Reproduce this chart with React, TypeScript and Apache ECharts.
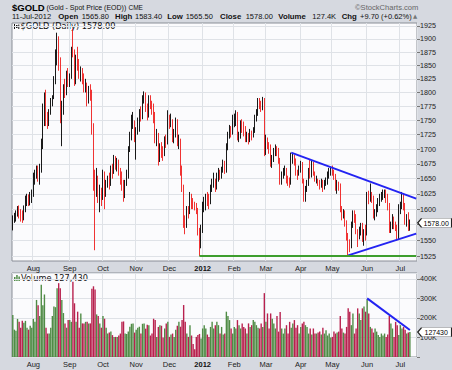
import React, { useEffect, useRef } from "react";
import * as echarts from "echarts";

// ---------- calendar ----------
const holidays = [
  "2011-09-05", "2011-11-24", "2011-12-26", "2012-01-02", "2012-01-16",
  "2012-02-20", "2012-04-06", "2012-05-28", "2012-07-04",
];
const firstDay = "2011-07-13";
const lastDay = "2012-07-17"; // last four sessions are empty space on the right
const monthNames = ["Jan", "Feb", "Mar", "Apr", "May", "Jun", "Jul", "Aug", "Sep", "Oct", "Nov", "Dec"];

// ---------- price: [open, close, low, high] ----------
const ohlcJul2011 = [
  [1570, 1585, 1566, 1590], [1585, 1588, 1578, 1594], [1588, 1592, 1580, 1598], [1592, 1600, 1588, 1605],
  [1600, 1595, 1585, 1606], [1595, 1588, 1580, 1600], [1588, 1585, 1578, 1598], [1585, 1600, 1582, 1606],
  [1600, 1612, 1595, 1622], [1612, 1618, 1605, 1625], [1618, 1612, 1605, 1624], [1612, 1615, 1606, 1628],
  [1615, 1628, 1610, 1632],
];
const ohlcAug2011 = [
  [1628, 1645, 1620, 1660], [1645, 1660, 1640, 1665], [1660, 1668, 1650, 1672], [1668, 1650, 1645, 1672],
  [1650, 1662, 1640, 1675], [1662, 1712, 1660, 1718], [1712, 1745, 1700, 1780], [1745, 1795, 1740, 1800],
  [1795, 1755, 1740, 1805], [1755, 1745, 1735, 1765], [1745, 1765, 1740, 1770], [1765, 1785, 1760, 1790],
  [1785, 1792, 1775, 1795], [1792, 1822, 1788, 1830], [1822, 1855, 1815, 1880], [1855, 1895, 1850, 1912],
  [1895, 1860, 1840, 1905], [1860, 1755, 1745, 1865], [1755, 1772, 1705, 1785], [1772, 1810, 1760, 1815],
  [1810, 1800, 1790, 1825], [1800, 1835, 1795, 1840], [1835, 1825, 1810, 1845],
];
const ohlcSep2011 = [
  [1825, 1828, 1810, 1835], [1828, 1880, 1825, 1885], [1880, 1872, 1865, 1920], [1872, 1818, 1812, 1880],
  [1818, 1862, 1815, 1870], [1862, 1858, 1840, 1885], [1858, 1835, 1825, 1862], [1835, 1842, 1820, 1848],
  [1842, 1828, 1815, 1845], [1828, 1812, 1800, 1835], [1812, 1815, 1800, 1825], [1815, 1782, 1775, 1818],
  [1782, 1808, 1780, 1812], [1808, 1800, 1785, 1815], [1800, 1740, 1725, 1805], [1740, 1655, 1630, 1745],
  [1655, 1625, 1535, 1665], [1625, 1652, 1620, 1668], [1652, 1618, 1610, 1655], [1618, 1625, 1595, 1640],
  [1625, 1622, 1605, 1635],
];
const ohlcOct2011 = [
  [1622, 1658, 1615, 1665], [1658, 1625, 1600, 1662], [1625, 1642, 1620, 1648], [1642, 1648, 1635, 1655],
  [1648, 1640, 1632, 1660], [1640, 1665, 1638, 1672], [1665, 1662, 1650, 1675], [1662, 1682, 1658, 1690],
  [1682, 1675, 1665, 1688], [1675, 1680, 1662, 1685], [1680, 1662, 1655, 1682], [1662, 1652, 1640, 1668],
  [1652, 1645, 1630, 1662], [1645, 1620, 1612, 1648], [1620, 1642, 1618, 1648], [1642, 1655, 1638, 1665],
  [1655, 1700, 1650, 1705], [1700, 1722, 1695, 1730], [1722, 1742, 1715, 1760], [1742, 1745, 1735, 1765],
  [1745, 1718, 1712, 1750],
];
const ohlcNov2011 = [
  [1718, 1730, 1682, 1738], [1730, 1740, 1725, 1755], [1740, 1765, 1730, 1770], [1765, 1755, 1748, 1775],
  [1755, 1790, 1752, 1795], [1790, 1795, 1780, 1802], [1795, 1775, 1765, 1800], [1775, 1760, 1750, 1780],
  [1760, 1790, 1755, 1795], [1790, 1780, 1770, 1795], [1780, 1775, 1760, 1785], [1775, 1760, 1745, 1780],
  [1760, 1720, 1710, 1765], [1720, 1725, 1705, 1735], [1725, 1682, 1672, 1728], [1682, 1700, 1678, 1710],
  [1700, 1695, 1685, 1712], [1695, 1690, 1680, 1705], [1690, 1715, 1688, 1722], [1715, 1712, 1702, 1725],
  [1712, 1748, 1708, 1768],
];
const ohlcDec2011 = [
  [1748, 1745, 1735, 1760], [1745, 1748, 1738, 1762], [1748, 1722, 1712, 1752], [1722, 1728, 1710, 1735],
  [1728, 1745, 1720, 1755], [1745, 1712, 1705, 1752], [1712, 1712, 1700, 1725], [1712, 1665, 1655, 1718],
  [1665, 1635, 1628, 1672], [1635, 1578, 1570, 1640], [1578, 1572, 1560, 1590], [1572, 1598, 1570, 1605],
  [1598, 1595, 1585, 1605], [1595, 1620, 1592, 1628], [1620, 1612, 1600, 1625], [1612, 1610, 1600, 1618],
  [1610, 1605, 1598, 1612], [1605, 1598, 1592, 1610], [1598, 1565, 1558, 1602], [1565, 1542, 1526, 1570],
  [1542, 1565, 1538, 1575],
];
const ohlcJan2012 = [
  [1565, 1600, 1562, 1612], [1600, 1612, 1595, 1620], [1612, 1620, 1598, 1625], [1620, 1616, 1605, 1628],
  [1616, 1610, 1600, 1625], [1610, 1635, 1608, 1640], [1635, 1645, 1628, 1650], [1645, 1648, 1635, 1660],
  [1648, 1635, 1628, 1650], [1635, 1655, 1632, 1660], [1655, 1660, 1645, 1668], [1660, 1655, 1648, 1665],
  [1655, 1665, 1650, 1670], [1665, 1675, 1660, 1682], [1675, 1665, 1658, 1680], [1665, 1700, 1660, 1710],
  [1700, 1725, 1698, 1730], [1725, 1735, 1718, 1742], [1735, 1730, 1720, 1740], [1730, 1745, 1725, 1760],
];
const ohlcFeb2012 = [
  [1745, 1748, 1738, 1762], [1748, 1760, 1740, 1768], [1760, 1722, 1715, 1765], [1722, 1722, 1712, 1730],
  [1722, 1745, 1718, 1750], [1745, 1740, 1728, 1752], [1740, 1735, 1722, 1748], [1735, 1720, 1712, 1740],
  [1720, 1722, 1712, 1730], [1722, 1718, 1708, 1728], [1718, 1728, 1712, 1735], [1728, 1725, 1715, 1732],
  [1725, 1730, 1720, 1738], [1730, 1755, 1728, 1760], [1755, 1762, 1748, 1770], [1762, 1785, 1758, 1790],
  [1785, 1778, 1770, 1790], [1778, 1772, 1765, 1785], [1772, 1785, 1768, 1792], [1785, 1695, 1688, 1790],
];
const ohlcMar2012 = [
  [1695, 1715, 1690, 1725], [1715, 1705, 1700, 1720], [1705, 1702, 1692, 1712], [1702, 1675, 1670, 1708],
  [1675, 1682, 1668, 1690], [1682, 1698, 1678, 1702], [1698, 1700, 1688, 1708], [1700, 1698, 1688, 1705],
  [1698, 1682, 1675, 1702], [1682, 1645, 1640, 1685], [1645, 1658, 1640, 1662], [1658, 1662, 1650, 1668],
  [1662, 1665, 1655, 1672], [1665, 1650, 1642, 1668], [1650, 1648, 1638, 1655], [1648, 1642, 1635, 1652],
  [1642, 1685, 1640, 1694], [1685, 1688, 1675, 1693], [1688, 1680, 1672, 1690], [1680, 1660, 1655, 1684],
  [1660, 1658, 1648, 1665], [1658, 1668, 1655, 1672],
];
const ohlcApr2012 = [
  [1668, 1675, 1660, 1680], [1675, 1648, 1642, 1678], [1648, 1618, 1612, 1650], [1618, 1630, 1612, 1638],
  [1630, 1642, 1628, 1648], [1642, 1662, 1638, 1668], [1662, 1658, 1650, 1682], [1658, 1675, 1652, 1680],
  [1675, 1660, 1655, 1678], [1660, 1650, 1645, 1662], [1650, 1652, 1642, 1655], [1652, 1645, 1638, 1650],
  [1645, 1642, 1632, 1648], [1642, 1645, 1635, 1650], [1645, 1635, 1628, 1648], [1635, 1642, 1632, 1648],
  [1642, 1645, 1638, 1652], [1645, 1658, 1640, 1662], [1658, 1662, 1650, 1668], [1662, 1665, 1655, 1670],
];
const ohlcMay2012 = [
  [1665, 1662, 1655, 1672], [1662, 1655, 1648, 1665], [1655, 1635, 1630, 1658], [1635, 1642, 1625, 1648],
  [1642, 1640, 1630, 1645], [1640, 1602, 1595, 1642], [1602, 1592, 1582, 1605], [1592, 1595, 1585, 1600],
  [1595, 1580, 1572, 1598], [1580, 1558, 1550, 1582], [1558, 1545, 1527, 1562], [1545, 1540, 1532, 1552],
  [1540, 1575, 1538, 1580], [1575, 1592, 1570, 1598], [1592, 1588, 1578, 1598], [1588, 1565, 1560, 1592],
  [1565, 1558, 1540, 1568], [1558, 1565, 1552, 1572], [1565, 1572, 1558, 1578], [1572, 1555, 1548, 1578],
  [1555, 1562, 1542, 1568], [1562, 1560, 1550, 1575],
];
const ohlcJun2012 = [
  [1560, 1622, 1558, 1628], [1622, 1618, 1608, 1630], [1618, 1620, 1612, 1642], [1620, 1618, 1610, 1628],
  [1618, 1590, 1585, 1622], [1590, 1595, 1582, 1600], [1595, 1598, 1588, 1608], [1598, 1612, 1595, 1618],
  [1612, 1620, 1605, 1625], [1620, 1622, 1612, 1628], [1622, 1625, 1615, 1632], [1625, 1628, 1618, 1632],
  [1628, 1620, 1610, 1632], [1620, 1605, 1598, 1625], [1605, 1566, 1562, 1610], [1566, 1572, 1562, 1580],
  [1572, 1585, 1568, 1592], [1585, 1575, 1568, 1588], [1575, 1572, 1565, 1580], [1572, 1555, 1550, 1575],
  [1555, 1602, 1552, 1608],
];
const ohlcJul2012 = [
  [1602, 1605, 1592, 1612], [1605, 1620, 1600, 1628], [1620, 1605, 1598, 1625], [1605, 1580, 1575, 1610],
  [1580, 1588, 1572, 1592], [1588, 1568.3, 1565, 1595], [1565.8, 1578, 1565.5, 1583.4],
];

// ---------- volume (thousands) ----------
const volJul2011 = [215, 140, 135, 195, 180, 150, 185, 175, 185, 150, 140, 160, 150];
const volAug2011 = [195, 180, 292, 265, 210, 370, 265, 320, 150, 120, 120, 150, 210, 258, 255, 352, 378, 352, 292, 225, 172, 150, 190];
const volSep2011 = [190, 180, 385, 275, 180, 232, 150, 223, 172, 172, 180, 180, 172, 172, 350, 362, 345, 218, 210, 172, 150];
const volOct2011 = [210, 196, 150, 120, 125, 130, 112, 103, 103, 103, 110, 120, 180, 182, 120, 118, 130, 155, 170, 172, 125];
const volNov2011 = [140, 150, 155, 120, 170, 172, 145, 165, 163, 110, 120, 196, 190, 103, 154, 163, 160, 100, 146, 172, 180];
const volDec2011 = [103, 115, 120, 103, 140, 160, 180, 155, 190, 266, 180, 120, 103, 163, 110, 66, 40, 103, 112, 118, 95];
const volJan2012 = [146, 163, 146, 115, 103, 154, 180, 146, 163, 180, 163, 120, 154, 115, 120, 232, 210, 189, 146, 120];
const volFeb2012 = [154, 146, 189, 163, 146, 172, 154, 146, 120, 172, 154, 163, 189, 180, 163, 150, 146, 172, 154, 327];
const volMar2012 = [180, 223, 146, 223, 196, 172, 146, 210, 130, 230, 146, 120, 146, 163, 120, 180, 150, 172, 189, 150, 163, 120];
const volApr2012 = [154, 172, 180, 163, 154, 120, 146, 115, 146, 120, 120, 125, 130, 115, 150, 120, 137, 110, 120, 100];
const volMay2012 = [103, 130, 120, 125, 130, 210, 146, 125, 120, 154, 249, 232, 163, 223, 120, 146, 249, 223, 189, 249, 258, 232];
const volJun2012 = [295, 223, 154, 146, 125, 146, 130, 112, 103, 120, 110, 120, 103, 115, 210, 172, 146, 103, 180, 163, 112];
const volJul2012 = [163, 146, 154, 140, 120, 125, 127.43];

// ---------- axes & annotations ----------
const priceGridTicks = [1525, 1550, 1575, 1600, 1625, 1650, 1675, 1700, 1725, 1750, 1775, 1800, 1825, 1850, 1875, 1900, 1925];
const priceHiddenLabel = 1575; // covered by the last-price tag
const priceAxisMin = 1518.4;
const priceAxisMax = 1930.8;
const volumeAxisMax = 430;
const volumeLabelTicks = [100, 200, 300, 400];

const upperTrend = [["2012-03-23", 1694], ["2012-07-17", 1617]];
const lowerTrend = [["2012-05-15", 1527], ["2012-07-17", 1561]];
const supportLine = [["2011-12-29", 1526], ["2012-07-17", 1526]];
const volumeTrend = [["2012-06-01", 300], ["2012-07-11", 138]];

// ---------- helpers ----------
function tradingDays(start: string, end: string, hol: string[]): string[] {
  const out: string[] = [];
  const d = new Date(start + "T00:00:00Z");
  const e = new Date(end + "T00:00:00Z");
  while (d.getTime() <= e.getTime()) {
    const wd = d.getUTCDay();
    const s = d.toISOString().slice(0, 10);
    if (wd !== 0 && wd !== 6 && hol.indexOf(s) < 0) out.push(s);
    d.setUTCDate(d.getUTCDate() + 1);
  }
  return out;
}

const UP = "#000000";
const DOWN = "#ee1c1c";
const VOL_UP = "#4f8b45";
const VOL_DOWN = "#b8214e";
const BLUE = "#2323f2";
const GREEN = "#3e9e2e";
const GRIDLINE = "#dfe2e7";
const FONT = '"Liberation Sans", Arial, sans-serif';
const LEGEND_FONT = '"DejaVu Sans", Verdana, sans-serif';

function buildOption() {
  const dates = tradingDays(firstDay, lastDay, holidays);
  const ohlc = [
    ...ohlcJul2011, ...ohlcAug2011, ...ohlcSep2011, ...ohlcOct2011, ...ohlcNov2011, ...ohlcDec2011,
    ...ohlcJan2012, ...ohlcFeb2012, ...ohlcMar2012, ...ohlcApr2012, ...ohlcMay2012, ...ohlcJun2012, ...ohlcJul2012,
  ];
  const vols = [
    ...volJul2011, ...volAug2011, ...volSep2011, ...volOct2011, ...volNov2011, ...volDec2011,
    ...volJan2012, ...volFeb2012, ...volMar2012, ...volApr2012, ...volMay2012, ...volJun2012, ...volJul2012,
  ];
  const last = ohlc[ohlc.length - 1];
  const prevClose = ohlc[ohlc.length - 2][1];
  const lastVol = vols[vols.length - 1];
  const chg = last[1] - prevClose;
  const chgPct = (chg / prevClose) * 100;
  const endDate = dates[dates.length - 1];

  const upFlags = ohlc.map((d, i) => d[1] >= (i > 0 ? ohlc[i - 1][1] : d[0]));

  const candleData = ohlc.map((d, i) => {
    const c = upFlags[i] ? UP : DOWN;
    return {
      value: d.map((v) => Math.log(v)),
      itemStyle: { color: c, color0: c, borderColor: c, borderColor0: c },
    };
  });
  const volData = vols.map((v, i) => ({ value: v, itemStyle: { color: upFlags[i] ? VOL_UP : VOL_DOWN } }));

  const isMonthStart = (index: number, value: string) => {
    if (index === 0) return false;
    const prev = dates[index - 1];
    return !!prev && prev.slice(5, 7) !== value.slice(5, 7);
  };
  const monthLabel = (value: string) => {
    const m = parseInt(value.slice(5, 7), 10);
    return m === 1 ? "{y|" + value.slice(0, 4) + "}" : monthNames[m - 1];
  };

  const xAxisBase = (gridIndex: number) => ({
    type: "category",
    gridIndex,
    data: dates,
    boundaryGap: true,
    axisLine: { show: false },
    axisTick: { show: false },
    axisLabel: {
      interval: isMonthStart,
      formatter: monthLabel,
      fontSize: 7.5,
      fontFamily: FONT,
      color: "#222",
      margin: 3,
      rich: { y: { fontWeight: "bold", fontSize: 7.5, fontFamily: FONT, color: "#111" } },
    },
    splitLine: { show: true, interval: isMonthStart, lineStyle: { color: GRIDLINE, width: 1 } },
  });

  const ln = (p: number) => Math.log(p);
  const trendPair = (pts: (string | number)[][], color: string, logY: boolean) => [
    { coord: [pts[0][0], logY ? ln(pts[0][1] as number) : pts[0][1]], lineStyle: { color, width: 2, type: "solid" } },
    { coord: [pts[1][0], logY ? ln(pts[1][1] as number) : pts[1][1]] },
  ];

  const tagSymbol = "path://M0,5L4,0L36,0L36,10L4,10Z";

  const hdr = (text: string, x: number, y: number, font: string, fill = "#111") => ({
    type: "text",
    x,
    y,
    silent: true,
    style: { text, font, fill, verticalAlign: "middle", align: "left" },
  });

  const line2Y = 16;
  const f2 = '7.5px "Liberation Sans"';
  const f2b = 'bold 7.8px "Liberation Sans"';

  return {
    animation: false,
    backgroundColor: "#d6d9e0",
    textStyle: { fontFamily: FONT },
    grid: [
      {
        left: 12, top: 23, width: 405, height: 238, show: true, containLabel: false, outerBoundsMode: "none",
        backgroundColor: "#fbfbfd", borderColor: "#8a8e97", borderWidth: 1,
      },
      {
        left: 12, top: 273, width: 405, height: 84, show: true, containLabel: false, outerBoundsMode: "none",
        backgroundColor: "#fbfbfd", borderColor: "#8a8e97", borderWidth: 1,
      },
    ],
    xAxis: [xAxisBase(0), xAxisBase(1)],
    yAxis: [
      {
        type: "value",
        gridIndex: 0,
        position: "right",
        min: ln(priceAxisMin),
        max: ln(priceAxisMax),
        axisLine: { show: false },
        axisTick: {
          show: true,
          length: 3,
          customValues: priceGridTicks.map(ln),
          lineStyle: { color: "#777" },
        },
        axisLabel: {
          customValues: priceGridTicks.filter((v) => v !== priceHiddenLabel).map(ln),
          formatter: (v: number) => String(Math.round(Math.exp(v))),
          fontSize: 7.2,
          fontFamily: FONT,
          color: "#222",
          margin: 3,
        },
        splitLine: { show: true, lineStyle: { color: GRIDLINE, width: 1 } },
      },
      {
        type: "value",
        gridIndex: 1,
        position: "right",
        min: 0,
        max: volumeAxisMax,
        interval: 100,
        axisLine: { show: false },
        axisTick: { show: true, length: 3, lineStyle: { color: "#777" } },
        axisLabel: {
          formatter: (v: number) => (volumeLabelTicks.indexOf(v) >= 0 ? v + "K" : ""),
          fontSize: 7.2,
          fontFamily: FONT,
          color: "#222",
          margin: 3,
          showMaxLabel: false,
        },
        splitLine: { show: true, lineStyle: { color: GRIDLINE, width: 1 } },
      },
    ],
    series: [
      {
        type: "candlestick",
        xAxisIndex: 0,
        yAxisIndex: 0,
        data: candleData,
        barWidth: 1,
        itemStyle: { borderWidth: 0.9 },
        markLine: {
          silent: true,
          symbol: ["none", "none"],
          label: { show: false },
          data: [
            trendPair(upperTrend, BLUE, true),
            trendPair(lowerTrend, BLUE, true),
            trendPair(supportLine, GREEN, true),
          ],
        },
        markPoint: {
          silent: true,
          symbol: tagSymbol,
          symbolSize: [34, 9],
          symbolOffset: [18.5, 0],
          itemStyle: { color: "#ffffff", borderColor: "#222", borderWidth: 0.8 },
          label: {
            show: true,
            position: "inside",
            formatter: last[1].toFixed(2),
            fontSize: 7,
            fontFamily: FONT,
            color: "#000",
            offset: [1.5, 0.5],
          },
          data: [{ coord: [endDate, ln(last[1])] }],
        },
      },
      {
        type: "bar",
        xAxisIndex: 1,
        yAxisIndex: 1,
        data: volData,
        barCategoryGap: "12%",
        markLine: {
          silent: true,
          symbol: ["none", "none"],
          label: { show: false },
          data: [trendPair(volumeTrend, BLUE, false)],
        },
        markPoint: {
          silent: true,
          symbol: tagSymbol,
          symbolSize: [34, 9],
          symbolOffset: [18.5, 0],
          itemStyle: { color: "#ffffff", borderColor: "#222", borderWidth: 0.8 },
          label: {
            show: true,
            position: "inside",
            formatter: String(Math.round(lastVol * 1000)),
            fontSize: 7,
            fontFamily: FONT,
            color: "#000",
            offset: [1.5, 0.5],
          },
          data: [{ coord: [endDate, lastVol] }],
        },
      },
    ],
    graphic: [
      hdr("$GOLD", 12, 7, 'bold 9.5px "Liberation Sans"', "#000"),
      hdr("(Gold - Spot Price (EOD))", 46.5, 7.3, '7px "Liberation Sans"'),
      hdr("CME", 128.5, 7.6, '6.5px "Liberation Sans"'),
      hdr("\u00A9StockCharts.com", 355, 7, '7.6px "Liberation Sans"', "#666"),
      hdr("11-Jul-2012", 12, line2Y, f2),
      hdr("Open", 58.3, line2Y, f2b),
      hdr(last[0].toFixed(2), 81.7, line2Y, f2),
      hdr("High", 115, line2Y, f2b),
      hdr(last[3].toFixed(2), 135, line2Y, f2),
      hdr("Low", 167.3, line2Y, f2b),
      hdr(last[2].toFixed(2), 185.7, line2Y, f2),
      hdr("Close", 220, line2Y, f2b),
      hdr(last[1].toFixed(2), 245.7, line2Y, f2),
      hdr("Volume", 278.3, line2Y, f2b),
      hdr(lastVol.toFixed(1) + "K", 312.3, line2Y, f2),
      hdr("Chg", 341.7, line2Y, f2b),
      hdr((chg >= 0 ? "+" : "") + chg.toFixed(2) + " (" + (chgPct >= 0 ? "+" : "") + chgPct.toFixed(2) + "%)", 360, line2Y, f2),
      hdr("\u25B2", 413, line2Y, '5.5px "DejaVu Sans"', "#777"),
      // price legend
      { type: "rect", silent: true, shape: { x: 14, y: 24, width: 1, height: 5 }, style: { fill: "#111" } },
      { type: "rect", silent: true, shape: { x: 16, y: 25, width: 1.5, height: 3 }, style: { fill: "#111" } },
      { type: "rect", silent: true, shape: { x: 18.3, y: 24.5, width: 1, height: 4.5 }, style: { fill: "#111" } },
      hdr("$GOLD (Daily) " + last[1].toFixed(2), 20.5, 26.4, '8.2px "DejaVu Sans"', "#111"),
      // volume legend
      { type: "rect", silent: true, shape: { x: 14, y: 277, width: 1.5, height: 4 }, style: { fill: VOL_UP } },
      { type: "rect", silent: true, shape: { x: 16.2, y: 275, width: 1.5, height: 6 }, style: { fill: VOL_UP } },
      { type: "rect", silent: true, shape: { x: 18.4, y: 276.5, width: 1.5, height: 4.5 }, style: { fill: VOL_UP } },
      hdr("Volume " + Math.round(lastVol * 1000).toLocaleString("en-US"), 21, 278, '8.2px "DejaVu Sans"', "#111"),
    ],
  };
}

export default function App() {
  const ref = useRef<HTMLDivElement>(null);
  useEffect(() => {
    if (!ref.current) return;
    const chart = echarts.init(ref.current, null, { renderer: "svg" });
    chart.setOption(buildOption() as any);
    return () => chart.dispose();
  }, []);
  return (
    <div
      ref={ref}
      style={{ position: "fixed", left: 0, top: 0, width: 452, height: 370, fontFamily: "Liberation Sans" }}
    />
  );
}
